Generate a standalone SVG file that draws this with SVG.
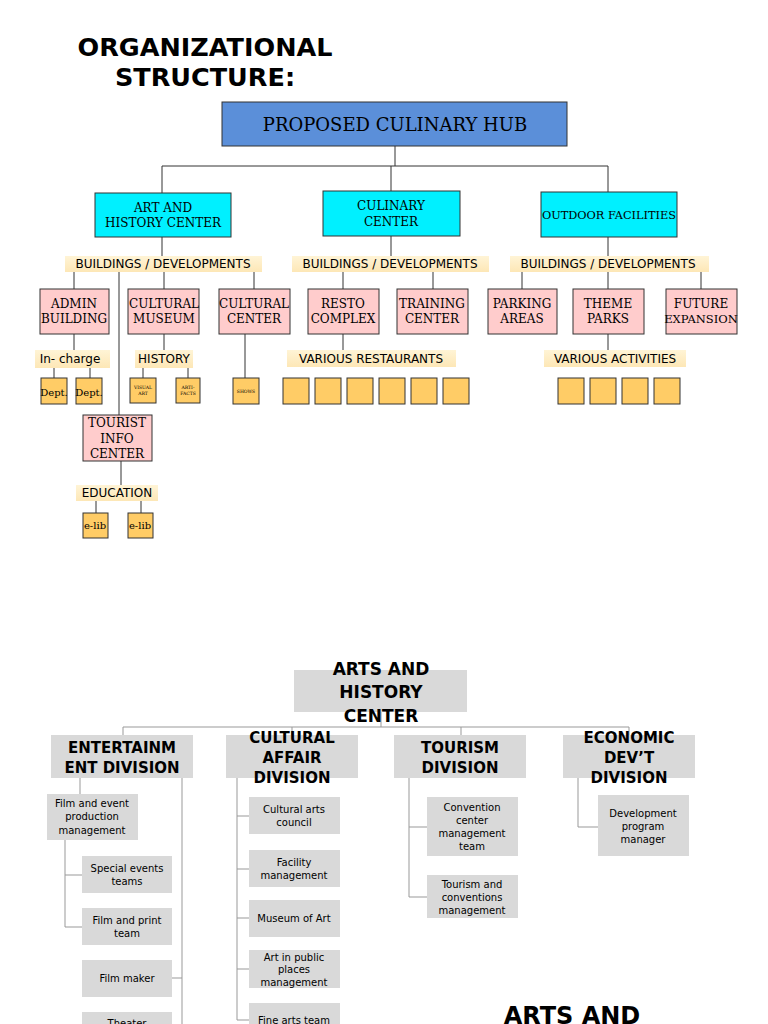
<svg xmlns="http://www.w3.org/2000/svg" width="768" height="1024" viewBox="0 0 768 1024">
<defs>
<linearGradient id="band" x1="0" y1="0" x2="0" y2="1"><stop offset="0" stop-color="#fff4d6"/><stop offset="1" stop-color="#fde7b6"/></linearGradient>
</defs>
<style>
.s{font-family:"DejaVu Serif","Liberation Serif",serif;fill:#000;text-anchor:middle}
.a{font-family:"DejaVu Sans","Liberation Sans",sans-serif;fill:#000;text-anchor:middle}
.b{font-family:"DejaVu Sans","Liberation Sans",sans-serif;font-weight:bold;fill:#000;text-anchor:middle}
.pk{fill:#ffcccc;stroke:#333;stroke-width:1}
.or{fill:#ffcc66;stroke:#333;stroke-width:1}
.bd{fill:url(#band)}
.gr{fill:#d9d9d9}
.ln line,.ln path{stroke:#333;stroke-width:1;fill:none}
.gl line,.gl path{stroke:#999;stroke-width:1;fill:none}
</style>
<rect width="768" height="1024" fill="#fff"/>
<text class="b" x="205" y="56" font-size="25.5">ORGANIZATIONAL</text>
<text class="b" x="205" y="86" font-size="25.5">STRUCTURE:</text>

<g id="connectors" class="ln">
<line x1="395" y1="146" x2="395" y2="166"/><line x1="162" y1="166" x2="608" y2="166"/>
<line x1="162" y1="166" x2="162" y2="193"/><line x1="391" y1="166" x2="391" y2="191"/><line x1="608" y1="166" x2="608" y2="192"/>
<line x1="162" y1="237" x2="162" y2="256"/><line x1="391" y1="236" x2="391" y2="256"/><line x1="608" y1="237" x2="608" y2="256"/>
<line x1="74" y1="272" x2="74" y2="289"/><line x1="164" y1="272" x2="164" y2="289"/><line x1="254" y1="272" x2="254" y2="289"/>
<line x1="343" y1="272" x2="343" y2="289"/><line x1="433" y1="272" x2="433" y2="289"/>
<line x1="522" y1="272" x2="522" y2="289"/><line x1="608" y1="272" x2="608" y2="289"/><line x1="701" y1="272" x2="701" y2="289"/>
<line x1="119" y1="272" x2="119" y2="415"/>
<line x1="74" y1="334" x2="74" y2="350"/><line x1="54" y1="368" x2="54" y2="378"/><line x1="90" y1="368" x2="90" y2="378"/>
<line x1="164" y1="334" x2="164" y2="350"/><line x1="143" y1="368" x2="143" y2="378"/><line x1="188" y1="368" x2="188" y2="378"/>
<line x1="245" y1="334" x2="245" y2="378"/>
<line x1="343" y1="334" x2="343" y2="350"/><line x1="608" y1="334" x2="608" y2="350"/>
<line x1="121" y1="461" x2="121" y2="485"/><line x1="96" y1="501" x2="96" y2="513"/><line x1="141" y1="501" x2="141" y2="513"/>
</g>
<g id="connectors2" class="gl">
<line x1="123" y1="727" x2="629" y2="727"/>
<line x1="381" y1="712" x2="381" y2="727"/>
<line x1="123" y1="727" x2="123" y2="735"/><line x1="292" y1="727" x2="292" y2="735"/><line x1="461" y1="727" x2="461" y2="735"/><line x1="629" y1="727" x2="629" y2="735"/>
<line x1="80" y1="778" x2="80" y2="794"/>
<path d="M65 840V927H82M65 875H82"/>
<path d="M182 778V1024M172 978H182M172 1030H182"/>
<path d="M237 778V1020H249M237 816H249M237 869H249M237 918H249M237 969H249"/>
<path d="M409 778V897H427M409 827H427"/>
<path d="M578 778V827H598"/>
</g>

<g id="root"><rect x="222" y="102" width="345" height="44" fill="#5b8fd9" stroke="#333"/><text class="s" x="395" y="131" font-size="18">PROPOSED CULINARY HUB</text></g>
<g id="arthist"><rect x="95" y="193" width="136" height="44" fill="#00f0ff" stroke="#333"/><text class="s" x="163" y="212" font-size="12">ART AND</text><text class="s" x="163" y="227" font-size="12">HISTORY CENTER</text></g>
<g id="culinary"><rect x="323" y="191" width="137" height="45" fill="#00f0ff" stroke="#333"/><text class="s" x="391" y="210" font-size="12">CULINARY</text><text class="s" x="391" y="226" font-size="12">CENTER</text></g>
<g id="outdoor"><rect x="541" y="192" width="136" height="45" fill="#00f0ff" stroke="#333"/><text class="s" x="609" y="219" font-size="11.3">OUTDOOR FACILITIES</text></g>

<g id="band1"><rect class="bd" x="65" y="256" width="197" height="16"/><text class="a" x="163" y="268" font-size="12">BUILDINGS / DEVELOPMENTS</text></g>
<g id="band2"><rect class="bd" x="292" y="256" width="197" height="16"/><text class="a" x="390" y="268" font-size="12">BUILDINGS / DEVELOPMENTS</text></g>
<g id="band3"><rect class="bd" x="510" y="256" width="199" height="16"/><text class="a" x="608" y="268" font-size="12">BUILDINGS / DEVELOPMENTS</text></g>

<g id="admin"><rect class="pk" x="40" y="289" width="69" height="45"/><text class="s" x="74" y="308" font-size="12">ADMIN</text><text class="s" x="74" y="323" font-size="12">BUILDING</text></g>
<g id="cmuseum"><rect class="pk" x="128" y="289" width="71" height="45"/><text class="s" x="164" y="308" font-size="12">CULTURAL</text><text class="s" x="164" y="323" font-size="12">MUSEUM</text></g>
<g id="ccenter"><rect class="pk" x="219" y="289" width="71" height="45"/><text class="s" x="254" y="308" font-size="12">CULTURAL</text><text class="s" x="254" y="323" font-size="12">CENTER</text></g>
<g id="resto"><rect class="pk" x="308" y="289" width="71" height="45"/><text class="s" x="343" y="308" font-size="12">RESTO</text><text class="s" x="343" y="323" font-size="12">COMPLEX</text></g>
<g id="training"><rect class="pk" x="397" y="289" width="71" height="45"/><text class="s" x="432" y="308" font-size="12">TRAINING</text><text class="s" x="432" y="323" font-size="12">CENTER</text></g>
<g id="parking"><rect class="pk" x="488" y="289" width="69" height="45"/><text class="s" x="522" y="308" font-size="12">PARKING</text><text class="s" x="522" y="323" font-size="12">AREAS</text></g>
<g id="theme"><rect class="pk" x="573" y="289" width="71" height="45"/><text class="s" x="608" y="308" font-size="12">THEME</text><text class="s" x="608" y="323" font-size="12">PARKS</text></g>
<g id="future"><rect class="pk" x="666" y="289" width="71" height="45"/><text class="s" x="701" y="308" font-size="12">FUTURE</text><text class="s" x="701" y="323" font-size="11.5">EXPANSION</text></g>

<g id="incharge"><rect class="bd" x="35" y="350" width="75" height="18"/><text class="a" x="70" y="363" font-size="12">In- charge</text></g>
<g id="history"><rect class="bd" x="135" y="350" width="58" height="18"/><text class="a" x="164" y="363" font-size="12">HISTORY</text></g>
<g id="various1"><rect class="bd" x="287" y="350" width="169" height="17"/><text class="a" x="371" y="363" font-size="12">VARIOUS RESTAURANTS</text></g>
<g id="various2"><rect class="bd" x="544" y="350" width="142" height="17"/><text class="a" x="615" y="363" font-size="12">VARIOUS ACTIVITIES</text></g>

<g id="dept1"><rect class="or" x="41" y="378" width="26" height="26"/><text class="s" x="54" y="396" font-size="10">Dept.</text></g>
<g id="dept2"><rect class="or" x="76" y="378" width="26" height="26"/><text class="s" x="89" y="396" font-size="10">Dept.</text></g>
<g id="visual"><rect class="or" x="130" y="378" width="26" height="25"/><text class="s" x="143" y="389" font-size="4.5">VISUAL</text><text class="s" x="143" y="395" font-size="4.5">ART</text></g>
<g id="artifacts"><rect class="or" x="176" y="378" width="24" height="25"/><text class="s" x="188" y="389" font-size="4.5">ARTI-</text><text class="s" x="188" y="395" font-size="4.5">FACTS</text></g>
<g id="shows"><rect class="or" x="233" y="378" width="26" height="26"/><text class="s" x="246" y="393" font-size="4.5">SHOWS</text></g>
<g id="r1"><rect class="or" x="283" y="378" width="26" height="26"/></g>
<g id="r2"><rect class="or" x="315" y="378" width="26" height="26"/></g>
<g id="r3"><rect class="or" x="347" y="378" width="26" height="26"/></g>
<g id="r4"><rect class="or" x="379" y="378" width="26" height="26"/></g>
<g id="r5"><rect class="or" x="411" y="378" width="26" height="26"/></g>
<g id="r6"><rect class="or" x="443" y="378" width="26" height="26"/></g>
<g id="a1"><rect class="or" x="558" y="378" width="26" height="26"/></g>
<g id="a2"><rect class="or" x="590" y="378" width="26" height="26"/></g>
<g id="a3"><rect class="or" x="622" y="378" width="26" height="26"/></g>
<g id="a4"><rect class="or" x="654" y="378" width="26" height="26"/></g>

<g id="tourist"><rect class="pk" x="83" y="415" width="69" height="46"/><text class="s" x="117" y="427" font-size="12">TOURIST</text><text class="s" x="117" y="443" font-size="12">INFO</text><text class="s" x="117" y="458" font-size="12">CENTER</text></g>
<g id="education"><rect class="bd" x="76" y="485" width="82" height="16"/><text class="a" x="117" y="497" font-size="12">EDUCATION</text></g>
<g id="elib1"><rect class="or" x="83" y="513" width="25" height="25"/><text class="s" x="95" y="529" font-size="10">e-lib</text></g>
<g id="elib2"><rect class="or" x="128" y="513" width="25" height="25"/><text class="s" x="140" y="529" font-size="10">e-lib</text></g>

<g id="ahc"><rect class="gr" x="294" y="670" width="173" height="42"/><text class="b" x="381" y="675" font-size="17">ARTS AND</text><text class="b" x="381" y="698" font-size="17">HISTORY</text><text class="b" x="381" y="722" font-size="17">CENTER</text></g>
<g id="ent"><rect class="gr" x="51" y="735" width="142" height="43"/><text class="b" x="122" y="753" font-size="15">ENTERTAINM</text><text class="b" x="122" y="773" font-size="15">ENT DIVISION</text></g>
<g id="caff"><rect class="gr" x="226" y="735" width="132" height="43"/><text class="b" x="292" y="743" font-size="15">CULTURAL</text><text class="b" x="292" y="763" font-size="15">AFFAIR</text><text class="b" x="292" y="783" font-size="15">DIVISION</text></g>
<g id="tour"><rect class="gr" x="394" y="735" width="132" height="43"/><text class="b" x="460" y="753" font-size="15">TOURISM</text><text class="b" x="460" y="773" font-size="15">DIVISION</text></g>
<g id="econ"><rect class="gr" x="563" y="735" width="132" height="43"/><text class="b" x="629" y="743" font-size="15">ECONOMIC</text><text class="b" x="629" y="763" font-size="15">DEV’T</text><text class="b" x="629" y="783" font-size="15">DIVISION</text></g>

<g id="e1"><rect class="gr" x="47" y="794" width="91" height="46"/><text class="a" x="92" y="807" font-size="10">Film and event</text><text class="a" x="92" y="820" font-size="10">production</text><text class="a" x="92" y="834" font-size="10">management</text></g>
<g id="e2"><rect class="gr" x="82" y="856" width="90" height="37"/><text class="a" x="127" y="872" font-size="10">Special events</text><text class="a" x="127" y="885" font-size="10">teams</text></g>
<g id="e3"><rect class="gr" x="82" y="908" width="90" height="37"/><text class="a" x="127" y="924" font-size="10">Film and print</text><text class="a" x="127" y="937" font-size="10">team</text></g>
<g id="e4"><rect class="gr" x="82" y="960" width="90" height="37"/><text class="a" x="127" y="982" font-size="10">Film maker</text></g>
<g id="e5"><rect class="gr" x="82" y="1012" width="90" height="37"/><text class="a" x="127" y="1027" font-size="10">Theater</text></g>

<g id="c1"><rect class="gr" x="249" y="797" width="91" height="37"/><text class="a" x="294" y="813" font-size="10">Cultural arts</text><text class="a" x="294" y="826" font-size="10">council</text></g>
<g id="c2"><rect class="gr" x="249" y="850" width="91" height="37"/><text class="a" x="294" y="866" font-size="10">Facility</text><text class="a" x="294" y="879" font-size="10">management</text></g>
<g id="c3"><rect class="gr" x="249" y="900" width="91" height="37"/><text class="a" x="294" y="922" font-size="10">Museum of Art</text></g>
<g id="c4"><rect class="gr" x="249" y="950" width="91" height="38"/><text class="a" x="294" y="961" font-size="10">Art in public</text><text class="a" x="294" y="973" font-size="10">places</text><text class="a" x="294" y="986" font-size="10">management</text></g>
<g id="c5"><rect class="gr" x="249" y="1003" width="91" height="37"/><text class="a" x="294" y="1024" font-size="10">Fine arts team</text></g>

<g id="t1"><rect class="gr" x="427" y="797" width="91" height="59"/><text class="a" x="472" y="811" font-size="10">Convention</text><text class="a" x="472" y="824" font-size="10">center</text><text class="a" x="472" y="837" font-size="10">management</text><text class="a" x="472" y="850" font-size="10">team</text></g>
<g id="t2"><rect class="gr" x="427" y="875" width="91" height="43"/><text class="a" x="472" y="888" font-size="10">Tourism and</text><text class="a" x="472" y="901" font-size="10">conventions</text><text class="a" x="472" y="914" font-size="10">management</text></g>
<g id="d1"><rect class="gr" x="598" y="795" width="91" height="61"/><text class="a" x="643" y="817" font-size="10">Development</text><text class="a" x="643" y="830" font-size="10">program</text><text class="a" x="643" y="843" font-size="10">manager</text></g>

<text class="b" x="572" y="1024" font-size="24">ARTS AND</text>
</svg>
